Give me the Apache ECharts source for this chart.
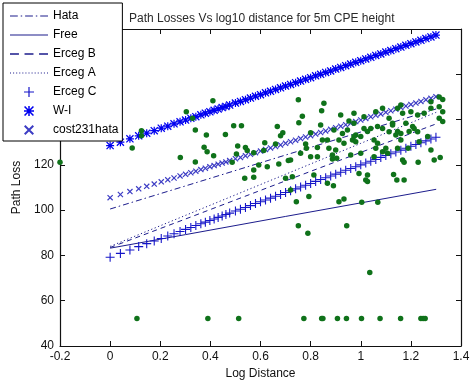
<!DOCTYPE html>
<html>
<head>
<meta charset="utf-8">
<script src="https://cdn.jsdelivr.net/npm/echarts@6/dist/echarts.min.js"></script>
<style>
html,body{margin:0;padding:0;background:#fff;}
#chart{width:474px;height:385px;}
</style>
</head>
<body>
<div id="chart"></div>
<script>
// ---- data ----
const titleText = 'Path Losses Vs log10 distance for 5m CPE height';
const xTicks = [-0.2, 0, 0.2, 0.4, 0.6, 0.8, 1, 1.2, 1.4];
const yTicks = [40, 60, 80, 100, 120, 140, 160, 180];

// log10 distance samples of the marker model curves
const logDist = [0,0.041,0.079,0.114,0.146,0.176,0.204,0.230,0.255,0.279,0.301,0.322,0.342,0.362,0.380,0.398,0.415,0.431,0.447,0.462,0.477,
  0.50,0.52,0.54,0.56,0.58,0.60,0.62,0.64,0.66,0.68,0.70,0.72,0.74,0.76,0.78,0.80,0.82,0.84,0.86,0.88,0.90,0.92,0.94,0.96,0.98,
  1.00,1.02,1.04,1.06,1.08,1.10,1.12,1.14,1.16,1.18,1.20,1.22,1.24,1.26,1.28,1.30];
const wiLoss = [128.5,130.0,131.5,132.8,134.0,135.1,136.2,137.1,138.1,139.0,139.8,140.6,141.3,142.1,142.8,143.4,144.1,144.7,145.3,145.8,146.4,
  147.3,148.0,148.8,149.5,150.3,151.0,151.8,152.5,153.3,154.0,154.8,155.5,156.3,157.0,157.8,158.5,159.3,160.0,160.8,161.5,
  162.3,163.0,163.8,164.5,165.3,166.0,166.8,167.5,168.3,169.0,169.8,170.5,171.3,172.0,172.8,173.5,174.3,175.0,175.8,176.5,177.3];
const ercegCLoss = [79.2,80.9,82.4,83.9,85.2,86.4,87.5,88.6,89.6,90.6,91.5,92.3,93.2,94.0,94.7,95.4,96.1,96.8,97.4,98.1,98.7,
  99.6,100.4,101.2,102.0,102.9,103.7,104.5,105.3,106.1,106.9,107.8,108.6,109.4,110.2,111.0,111.8,112.7,113.5,114.3,115.1,
  115.9,116.7,117.6,118.4,119.2,120.0,120.8,121.6,122.4,123.3,124.1,124.9,125.7,126.5,127.3,128.2,129.0,129.8,130.6,131.4,132.2];
const cost231Loss = [105.5,106.9,108.2,109.4,110.5,111.5,112.5,113.4,114.2,115.1,115.8,116.5,117.2,117.9,118.5,119.2,119.7,120.3,120.8,121.3,121.9,
  122.7,123.3,124.0,124.7,125.4,126.1,126.8,127.5,128.1,128.8,129.5,130.2,130.9,131.6,132.3,132.9,133.6,134.3,135.0,135.7,
  136.4,137.1,137.7,138.4,139.1,139.8,140.5,141.2,141.9,142.5,143.2,143.9,144.6,145.3,146.0,146.7,147.3,148.0,148.7,149.4,150.1];

// straight model lines
const lineDist = [0, 0.301, 0.699, 1.0, 1.301];
const hataLoss = [100.5, 110.7, 124.3, 134.5, 144.7];
const freeLoss = [83.2, 89.2, 97.2, 103.2, 109.2];
const ercegBLoss = [83.5, 96.1, 112.9, 125.5, 138.1];
const ercegALoss = [84.0, 97.7, 115.8, 129.5, 143.2];

// measured points
const measDist = [-0.2,-0.016,0.088,0.125,0.125,0.28,0.304,0.329,0.34,0.34,0.375,0.387,0.384,0.413,0.41,0.46,0.487,0.504,0.509,0.493,
  0.524,0.537,0.54,0.547,0.573,0.573,0.573,0.593,0.613,0.617,0.627,0.66,0.667,0.673,0.68,0.689,0.7,0.711,0.72,0.727,
  0.751,0.753,0.767,0.78,0.783,0.793,0.8,0.813,0.827,0.827,0.84,0.844,0.853,0.847,0.873,0.9,0.913,0.887,0.904,0.893,
  0.92,0.927,0.947,0.953,0.973,0.973,0.967,0.98,0.98,0.96,1.0,1.0,1.013,1.013,1.04,1.06,1.06,1.067,1.067,1.087,
  1.087,1.087,1.107,1.113,1.113,1.127,1.127,1.14,1.147,1.147,1.16,1.16,1.16,1.167,1.18,1.189,1.2,1.207,1.227,1.227,
  1.253,1.28,1.28,1.313,1.327,1.313,1.313,0.867,0.891,0.993,1.027,1.02,1.027,1.131,1.144,1.173,1.229,1.317,1.167,1.173,
  0.743,0.913,0.933,1.004,1.068,0.751,0.789,0.944,1.036,
  0.107,0.39,0.513,0.773,0.844,0.849,0.907,0.943,1.003,1.077,1.159,1.24,1.249,1.257,
  1.327,1.327,0.867,0.887,0.933,0.973,1.027,1.053,1.1,1.147,1.193,1.213,1.233,1.267,1.28,1.293,1.053,0.76,0.8,0.72];
const measLoss = [121.1,134.3,127.5,135.1,132.8,123.3,143.5,140.6,135.4,121.3,127.8,125.8,133.2,124.0,148.3,133.4,121.1,124.8,128.3,137.3,
  137.3,114.1,127.7,126.3,125.4,114.5,117.7,119.9,126.3,129.8,119.2,129.2,136.9,120.4,132.8,134.2,114.1,121.9,108.9,114.8,
  148.8,138.6,141.5,129.2,127.3,106.0,134.2,115.5,127.7,123.6,137.6,143.9,147.2,131.0,127.3,126.6,131.0,122.6,122.9,135.4,
  142.0,133.9,135.4,139.4,138.4,142.8,131.0,130.2,133.2,124.4,125.1,132.5,141.3,136.1,136.1,143.5,127.3,136.9,129.5,145.0,
  136.1,125.8,125.1,140.6,134.6,138.4,137.6,133.2,145.0,127.3,146.4,133.9,131.0,142.8,138.4,127.3,143.5,136.9,142.0,134.6,
  142.8,145.0,147.9,145.7,143.5,140.6,150.0,111.9,110.8,116.2,115.5,113.3,112.6,115.7,113.3,113.3,121.1,123.2,122.2,121.1,
  103.7,103.7,104.9,103.5,103.5,93.1,89.8,93.1,72.5,
  52.2,52.2,52.2,52.2,52.2,52.2,52.2,52.2,52.2,52.2,52.2,52.2,52.2,52.2,
  148.9,139.1,131.0,124.4,129.5,132.5,134.7,131.0,127.3,134.7,134.7,136.1,130.2,132.5,126.6,122.2,123.6,125.1,123.6,122.2];

// ---- symbols ----
const PLUS = 'path://M4.4,0H5.6V4.4H10V5.6H5.6V10H4.4V5.6H0V4.4H4.4Z';
const STAR = 'path://M4.25,0H5.75V10H4.25Z M0,4.25H10V5.75H0Z M1.1,0L10,8.9L8.9,10L0,1.1Z M8.9,0L10,1.1L1.1,10L0,8.9Z';
const CROSS = 'path://M1.4,0L10,8.6L8.6,10L0,1.4Z M8.6,0L10,1.4L1.4,10L0,8.6Z';
const ICON_DASHDOT = 'path://M0,0H8V1.2H0Z M11,0H12.5V1.2H11Z M15.5,0H23.5V1.2H15.5Z M26.5,0H28V1.2H26.5Z M31,0H39V1.2H31Z';
const ICON_SOLID = 'path://M0,0H38V1.2H0Z';
const ICON_DASH = 'path://M2,0H10V1.2H2Z M15,0H23V1.2H15Z M28,0H36V1.2H28Z';
const ICON_DOT = 'path://M0,0H1V1H0Z M3,0H4V1H3Z M6,0H7V1H6Z M9,0H10V1H9Z M12,0H13V1H12Z M15,0H16V1H15Z M18,0H19V1H18Z M21,0H22V1H21Z M24,0H25V1H24Z M27,0H28V1H27Z M30,0H31V1H30Z M33,0H34V1H33Z M36,0H37V1H36Z';

const NAVY = '#1c1c8c';
const FONT = '"Liberation Sans", Arial, sans-serif';

function pairs(xs, ys) { return xs.map((x, i) => [x, ys[i]]); }

const chart = echarts.init(document.getElementById('chart'), null, {renderer: 'canvas'});
const xMin = xTicks[0], xMax = xTicks[xTicks.length - 1], xStep = xTicks[1] - xTicks[0];
const yMin = yTicks[0], yMax = yTicks[yTicks.length - 1], yStep = yTicks[1] - yTicks[0];

const axisCommon = {
  axisLine: {show: true, onZero: false, lineStyle: {color: '#111', width: 1.2}},
  axisTick: {show: true, inside: true, length: 5, lineStyle: {color: '#111'}},
  splitLine: {show: false}
};

chart.setOption({
  animation: false,
  backgroundColor: '#fff',
  textStyle: {fontFamily: FONT},
  title: {
    text: titleText, left: 124, top: 8,
    textStyle: {fontSize: 12, fontWeight: 'normal', color: '#2a2a2a', fontFamily: FONT}
  },
  grid: {left: 60, right: 13, top: 29, bottom: 39, containLabel: false},
  legend: {
    left: 3, top: 3, orient: 'vertical',
    padding: [7, 4, 5, 7],
    itemWidth: 38, itemHeight: 10, itemGap: 7,
    backgroundColor: '#fff', borderColor: '#000', borderWidth: 1,
    itemStyle: {borderWidth: 0, opacity: 1},
    textStyle: {fontSize: 12, color: '#000', fontFamily: FONT},
    selectedMode: false,
    z: 10,
    data: [
      {name: 'Hata', icon: ICON_DASHDOT},
      {name: 'Free', icon: ICON_SOLID},
      {name: 'Erceg B', icon: ICON_DASH},
      {name: 'Erceg A', icon: ICON_DOT},
      {name: 'Erceg C', icon: PLUS},
      {name: 'W-I', icon: STAR},
      {name: 'cost231hata', icon: CROSS}
    ]
  },
  xAxis: [
    Object.assign({
      type: 'value', position: 'bottom', min: xMin, max: xMax, interval: xStep,
      name: 'Log Distance', nameLocation: 'middle', nameGap: 19,
      nameTextStyle: {fontSize: 12, color: '#111', fontFamily: FONT},
      axisLabel: {fontSize: 12, color: '#111', margin: 5, fontFamily: FONT}
    }, axisCommon),
    Object.assign({
      type: 'value', position: 'top', min: xMin, max: xMax, interval: xStep,
      axisLabel: {show: false}
    }, axisCommon)
  ],
  yAxis: [
    Object.assign({
      type: 'value', position: 'left', min: yMin, max: yMax, interval: yStep,
      name: 'Path Loss', nameLocation: 'middle', nameGap: 31, nameRotate: 90,
      nameTextStyle: {fontSize: 12, color: '#111', fontFamily: FONT},
      axisLabel: {fontSize: 12, color: '#111', margin: 6, fontFamily: FONT}
    }, axisCommon),
    Object.assign({
      type: 'value', position: 'right', min: yMin, max: yMax, interval: yStep,
      axisLabel: {show: false}
    }, axisCommon)
  ],
  series: [
    {name: 'Hata', type: 'line', data: pairs(lineDist, hataLoss), showSymbol: false, symbol: 'none',
     color: NAVY, lineStyle: {color: NAVY, width: 1, type: [6, 3, 1.5, 3]}, z: 3},
    {name: 'Free', type: 'line', data: pairs(lineDist, freeLoss), showSymbol: false, symbol: 'none',
     color: NAVY, lineStyle: {color: NAVY, width: 1, type: 'solid'}, z: 3},
    {name: 'Erceg B', type: 'line', data: pairs(lineDist, ercegBLoss), showSymbol: false, symbol: 'none',
     color: NAVY, lineStyle: {color: NAVY, width: 1, type: [5, 4]}, z: 3},
    {name: 'Erceg A', type: 'line', data: pairs(lineDist, ercegALoss), showSymbol: false, symbol: 'none',
     color: NAVY, lineStyle: {color: NAVY, width: 1, type: [1.2, 2.5]}, z: 3},
    {name: 'Erceg C', type: 'scatter', data: pairs(logDist, ercegCLoss), symbol: PLUS, symbolSize: 9,
     color: '#1414c8', itemStyle: {color: '#1414c8', opacity: 1}, z: 3},
    {name: 'W-I', type: 'scatter', data: pairs(logDist, wiLoss), symbol: STAR, symbolSize: 8,
     color: '#0000f0', itemStyle: {color: '#0000f0', opacity: 1}, z: 3},
    {name: 'cost231hata', type: 'scatter', data: pairs(logDist, cost231Loss), symbol: CROSS, symbolSize: 6,
     color: '#3c3cc4', itemStyle: {color: '#3c3cc4', opacity: 1}, z: 3},
    {name: 'Measured', type: 'scatter', data: pairs(measDist, measLoss), symbol: 'circle', symbolSize: 5.5,
     color: '#0f721a', itemStyle: {color: '#0f721a', opacity: 1}, z: 4}
  ]
});
</script>
</body>
</html>
